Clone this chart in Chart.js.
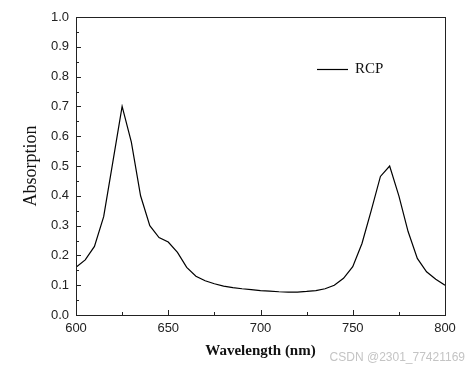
<!DOCTYPE html>
<html>
<head>
<meta charset="utf-8">
<script src="https://cdn.jsdelivr.net/npm/chart.js@4/dist/chart.umd.min.js"></script>
<style>
  html, body { margin: 0; padding: 0; background: #fff; }
  #wrap { width: 474px; height: 369px; position: relative; }
</style>
</head>
<body>
<div id="wrap"><canvas id="absChart"></canvas></div>
<script>
// wavelength (nm) and RCP absorption
const wavelengths = [600, 605, 610, 615, 620, 625, 630, 635, 640, 645,
  650, 655, 660, 665, 670, 675, 680, 685, 690, 695,
  700, 705, 710, 715, 720, 725, 730, 735, 740, 745,
  750, 755, 760, 765, 770, 775, 780, 785, 790, 795, 800];
const rcpValues = [0.16, 0.185, 0.23, 0.33, 0.515, 0.70, 0.58, 0.40, 0.30, 0.26,
  0.245, 0.21, 0.16, 0.13, 0.115, 0.105, 0.097, 0.092, 0.088, 0.085,
  0.082, 0.080, 0.078, 0.077, 0.077, 0.079, 0.082, 0.088, 0.100, 0.123,
  0.162, 0.24, 0.35, 0.465, 0.50, 0.40, 0.28, 0.19, 0.145, 0.12, 0.10];
const seriesName = 'RCP';
const xRange = [600, 800];
const yRange = [0, 1];
const xMajorStep = 50;
const yMajorStep = 0.1;

const AXIS_COLOR = '#222';
const TICK_FONT = { family: '"Liberation Sans", Arial, sans-serif', size: 13 };

// inward major/minor ticks + full frame, legend and the watermark
const framePlugin = {
  id: 'frame',
  afterDraw(chart) {
    const { ctx, chartArea: a, scales } = chart;
    ctx.save();
    ctx.strokeStyle = AXIS_COLOR;
    ctx.lineWidth = 1;

    scales.x.ticks.forEach((t) => {
      const px = Math.round(scales.x.getPixelForValue(t.value)) + 0.5;
      const major = Math.abs(t.value % xMajorStep) < 1e-6;
      ctx.beginPath();
      ctx.moveTo(px, a.bottom);
      ctx.lineTo(px, a.bottom - (major ? 5 : 3));
      ctx.stroke();
    });
    scales.y.ticks.forEach((t) => {
      const py = Math.round(scales.y.getPixelForValue(t.value)) + 0.5;
      const major = Math.round(t.value * 100) % 10 === 0;
      ctx.beginPath();
      ctx.moveTo(a.left, py);
      ctx.lineTo(a.left + (major ? 5 : 3), py);
      ctx.stroke();
    });

    ctx.strokeRect(Math.round(a.left) + 0.5, Math.round(a.top) + 0.5,
      Math.round(a.right - a.left), Math.round(a.bottom - a.top));

    // legend inside the plot
    const ly = 69.5;
    ctx.strokeStyle = '#000';
    ctx.lineWidth = 1.2;
    ctx.beginPath();
    ctx.moveTo(317, ly);
    ctx.lineTo(348, ly);
    ctx.stroke();
    ctx.fillStyle = '#111';
    ctx.font = '15px "Liberation Serif", "Times New Roman", serif';
    ctx.textBaseline = 'middle';
    ctx.textAlign = 'left';
    ctx.fillText(chart.data.datasets[0].label, 355, ly);

    // watermark
    ctx.fillStyle = '#c4c4c4';
    ctx.font = '12px "Liberation Sans", Arial, sans-serif';
    ctx.textAlign = 'right';
    ctx.fillText('CSDN @2301_77421169', 465, 358);
    ctx.restore();
  }
};

new Chart(document.getElementById('absChart'), {
  type: 'line',
  data: {
    datasets: [{
      label: seriesName,
      data: wavelengths.map((w, i) => ({ x: w, y: rcpValues[i] })),
      borderColor: '#000',
      borderWidth: 1.2,
      pointRadius: 0,
      tension: 0,
      fill: false,
    }],
  },
  options: {
    responsive: true,
    maintainAspectRatio: false,
    animation: false,
    devicePixelRatio: 1,
    layout: { padding: { top: 17, right: 29, left: 0, bottom: 0 } },
    plugins: { legend: { display: false }, tooltip: { enabled: false } },
    scales: {
      x: {
        type: 'linear',
        min: xRange[0],
        max: xRange[1],
        grid: { display: false, drawTicks: false },
        border: { display: false },
        ticks: {
          stepSize: xMajorStep / 2,
          autoSkip: false,
          maxRotation: 0,
          padding: 6,
          color: '#222',
          font: TICK_FONT,
          callback: (v) => (v % xMajorStep === 0 ? String(v) : ''),
        },
        title: {
          display: true,
          text: 'Wavelength (nm)',
          color: '#111',
          font: { family: '"Liberation Serif", "Times New Roman", serif', size: 15, weight: 'bold' },
          padding: { top: 0, bottom: 9 },
        },
        afterFit: (scale) => { scale.height = 54; },
      },
      y: {
        min: yRange[0],
        max: yRange[1],
        grid: { display: false, drawTicks: false },
        border: { display: false },
        ticks: {
          stepSize: yMajorStep / 2,
          autoSkip: false,
          padding: 7,
          color: '#222',
          font: TICK_FONT,
          callback: (v) => (Math.round(v * 100) % 10 === 0 ? v.toFixed(1) : ''),
        },
        title: {
          display: true,
          text: 'Absorption',
          color: '#111',
          font: { family: '"Liberation Serif", "Times New Roman", serif', size: 18 },
          padding: { top: 20, bottom: 0 },
        },
        afterFit: (scale) => { scale.width = 76; },
      },
    },
  },
  plugins: [framePlugin],
});
</script>
</body>
</html>
